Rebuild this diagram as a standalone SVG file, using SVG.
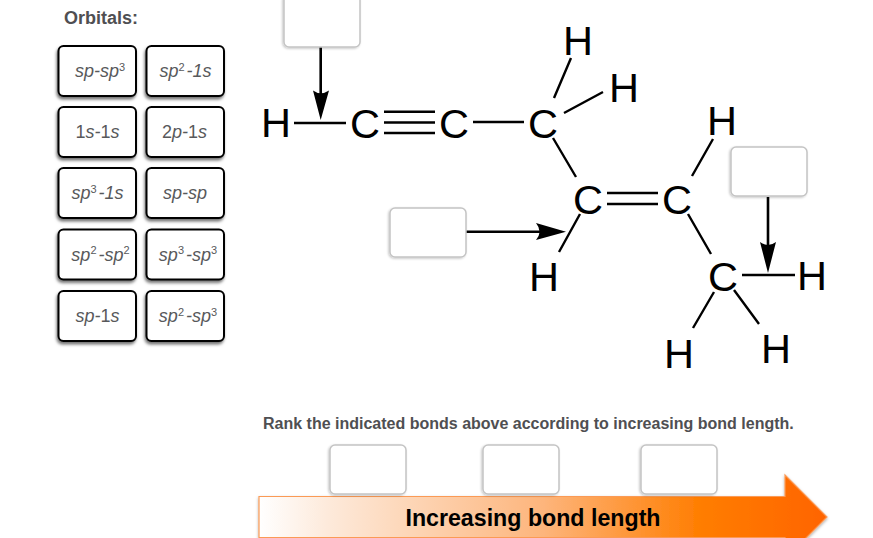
<svg xmlns="http://www.w3.org/2000/svg" width="873" height="538" viewBox="0 0 873 538">
<style>
text{font-family:"Liberation Sans",Arial,sans-serif}
.tile{fill:#fff;stroke:#000;stroke-width:2;filter:url(#s1)}
.blank{fill:#fff;stroke:#c4c4c4;stroke-width:1.5;filter:url(#s2)}
.lab{font-size:18px;font-style:italic;fill:#58595b;text-anchor:middle}
.up{font-style:normal}
.sup{font-size:11px;font-style:normal}
.hd{font-weight:bold;fill:#4f4f52}
.atom{font-size:41.5px;fill:#000;text-anchor:middle}
.bond{stroke:#000;stroke-width:2.4;fill:none}
.arr{stroke:#000;stroke-width:2.6;fill:none}
</style>
<defs>
<filter id="s1" x="-15%" y="-15%" width="130%" height="135%"><feDropShadow dx="-1" dy="2.5" stdDeviation="1.5" flood-color="#000" flood-opacity=".55"/></filter>
<filter id="s2" x="-15%" y="-15%" width="130%" height="135%"><feDropShadow dx="-1" dy="1" stdDeviation="1.2" flood-color="#000" flood-opacity=".22"/></filter>
<filter id="s3" x="-2%" y="-10%" width="104%" height="125%"><feDropShadow dx="0" dy="1.5" stdDeviation="1.5" flood-color="#000" flood-opacity=".3"/></filter>
<linearGradient id="g" x1="0" x2="1" y1="0" y2="0">
<stop offset="0" stop-color="#fff"/><stop offset=".12" stop-color="#fdeadb"/><stop offset=".5" stop-color="#fdb57c"/><stop offset=".78" stop-color="#ff7d00"/><stop offset="1" stop-color="#ff6400"/>
</linearGradient>
</defs>
<rect width="873" height="538" fill="#fff"/>
<text id="orbitals-title" class="hd" x="64" y="24" font-size="18">Orbitals:</text>
<g id="tile-sp-sp3"><rect class="tile" x="58.5" y="46" width="77.5" height="50" rx="5"/><text class="lab" x="100" y="77">sp-sp<tspan class="sup" dy="-6.5">3</tspan></text></g>
<g id="tile-sp2-1s"><rect class="tile" x="146.500" y="46" width="77.500" height="50" rx="5"/><text class="lab" x="185.500" y="77">sp<tspan class="sup" dy="-6.500">2</tspan><tspan dy="6.500" dx="2">-1s</tspan></text></g>
<g id="tile-1s-1s"><rect class="tile" x="58.500" y="107" width="77.500" height="50" rx="5"/><text class="lab" x="97.500" y="138"><tspan class="up">1</tspan>s-<tspan class="up">1</tspan>s</text></g>
<g id="tile-2p-1s"><rect class="tile" x="146.500" y="107" width="77.500" height="50" rx="5"/><text class="lab" x="184.500" y="138"><tspan class="up">2</tspan>p-<tspan class="up">1</tspan>s</text></g>
<g id="tile-sp3-1s"><rect class="tile" x="58.500" y="168" width="77.500" height="50" rx="5"/><text class="lab" x="97.500" y="199">sp<tspan class="sup" dy="-6.500">3</tspan><tspan dy="6.500" dx="2">-1s</tspan></text></g>
<g id="tile-sp-sp"><rect class="tile" x="146.500" y="168" width="77.500" height="50" rx="5"/><text class="lab" x="185" y="199">sp-sp</text></g>
<g id="tile-sp2-sp2"><rect class="tile" x="58.500" y="229.500" width="77.500" height="50" rx="5"/><text class="lab" x="100.500" y="260.500">sp<tspan class="sup" dy="-6.500">2</tspan><tspan dy="6.500" dx="2">-sp</tspan><tspan class="sup" dy="-6.500">2</tspan></text></g>
<g id="tile-sp3-sp3"><rect class="tile" x="146.500" y="229.500" width="77.500" height="50" rx="5"/><text class="lab" x="188" y="260.500">sp<tspan class="sup" dy="-6.500">3</tspan><tspan dy="6.500" dx="2">-sp</tspan><tspan class="sup" dy="-6.500">3</tspan></text></g>
<g id="tile-sp-1s"><rect class="tile" x="58.500" y="291" width="77.500" height="50" rx="5"/><text class="lab" x="97.500" y="322">sp-<tspan class="up">1</tspan>s</text></g>
<g id="tile-sp2-sp3"><rect class="tile" x="146.500" y="291" width="77.500" height="50" rx="5"/><text class="lab" x="188" y="322">sp<tspan class="sup" dy="-6.500">2</tspan><tspan dy="6.500" dx="2">-sp</tspan><tspan class="sup" dy="-6.500">3</tspan></text></g>

<g id="connectors">
<path class="bond" d="M294 123H346M384 111.700H435M384 122.500H435M384 133H435M473 122H524M554 98L571 58M564 113L603 92M553 138L576 177M607 193H658M607 204H658M692 176L713 139M580 214L559 252M688 214L711 254M742 275H795M714 292L693 328M734 290L759 324"/>
<path class="arr" d="M320.700 47V100M768 197V250M466 231.700H545"/>
<path d="M320.700 120L313 90.500Q320.700 96 329 90.500Z"/>
<path d="M768 273L760 242Q768 248 776 242Z"/>
<path d="M566 231.700L536 223Q543 231.700 536 240Z"/>
</g>

<g id="blank-top"><rect class="blank" x="284" y="-6" width="76" height="53" rx="5"/></g>
<g id="blank-right"><rect class="blank" x="731" y="147" width="76" height="49" rx="5"/></g>
<g id="blank-left"><rect class="blank" x="390" y="208" width="76" height="49" rx="5"/></g>

<g id="atoms">
<text class="atom" x="276" y="137">H</text>
<text class="atom" x="365" y="138">C</text>
<text class="atom" x="454" y="138">C</text>
<text class="atom" x="543" y="138">C</text>
<text class="atom" x="578" y="55">H</text>
<text class="atom" x="624" y="102">H</text>
<text class="atom" x="588" y="214">C</text>
<text class="atom" x="677" y="214">C</text>
<text class="atom" x="722" y="135">H</text>
<text class="atom" x="544" y="291">H</text>
<text class="atom" x="723" y="291">C</text>
<text class="atom" x="812" y="290">H</text>
<text class="atom" x="679" y="368">H</text>
<text class="atom" x="776" y="363">H</text>
</g>

<text id="rank-text" class="hd" x="263" y="429" font-size="16">Rank the indicated bonds above according to increasing bond length.</text>
<g id="rank-arrow">
<path d="M259 496.500H785V475L827 517L785 559V537.500H259Z" fill="url(#g)" stroke="#fb9a55" stroke-width="1.200" filter="url(#s3)"/>
<text x="533" y="526" font-size="23.200" font-weight="bold" fill="#000" text-anchor="middle">Increasing bond length</text>
</g>
<g id="blank-rank-1"><rect class="blank" x="330" y="445" width="76" height="49" rx="5"/></g>
<g id="blank-rank-2"><rect class="blank" x="483" y="445" width="76" height="49" rx="5"/></g>
<g id="blank-rank-3"><rect class="blank" x="641" y="445" width="76" height="49" rx="5"/></g>
</svg>
